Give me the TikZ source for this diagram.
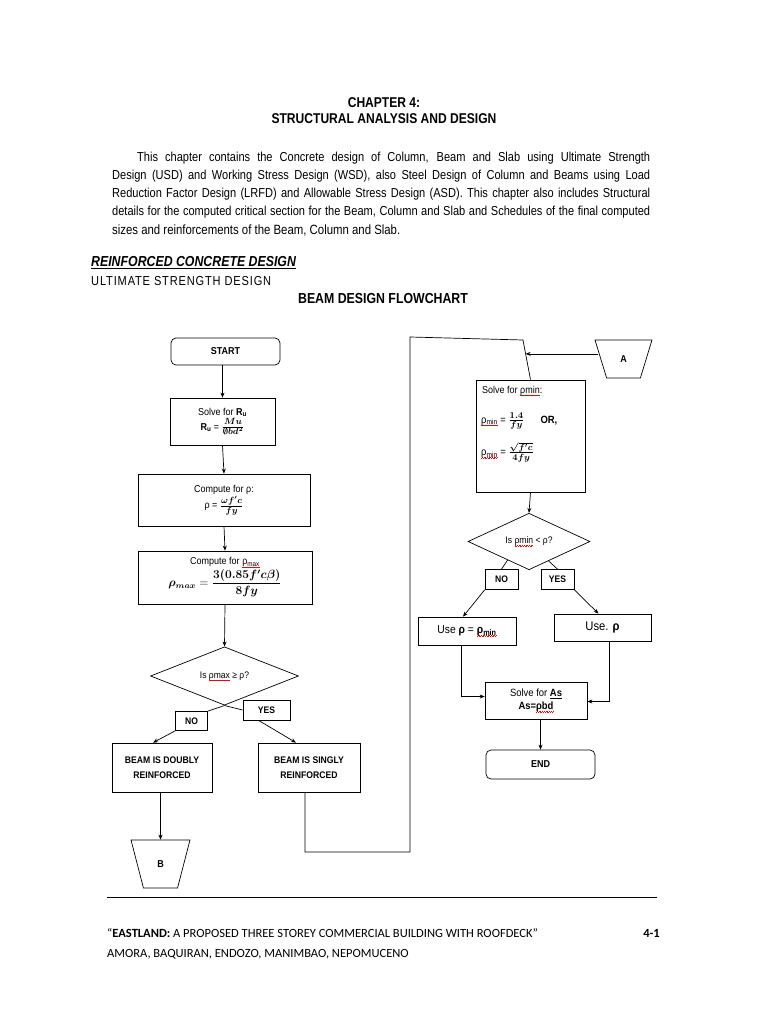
\documentclass[tikz,border=0pt]{standalone}
\usepackage{amsmath}
\usepackage{bm}
\usepackage[no-math]{fontspec}
\setmainfont{Liberation Sans}[FakeStretch=0.85]
\newfontfamily\flowfont{Liberation Sans}[FakeStretch=0.9]
\newfontfamily\footfont{Carlito}
\usetikzlibrary{shapes.geometric,arrows.meta,calc}
\newsavebox\sqbox
\newcommand\redsq[1]{\sbox\sqbox{#1}\leavevmode\rlap{\color{red}\hbox to\wd\sqbox{\xleaders\hbox to 1.6pt{\hss\raisebox{-2.6pt}{\rule{0.8pt}{0.55pt}}\raisebox{-2.1pt}{\rule{0.8pt}{0.55pt}}\hss}\hfill}}\usebox\sqbox}
\newcommand\fr[1]{{\fontsize{12.5}{12.5}\selectfont$\bm{#1}$}}
\tikzset{
 box/.style={draw, line width=0.7pt, inner sep=1pt, align=center, font=\flowfont\fontsize{10}{12}\selectfont},
 term/.style={box, rounded corners=5pt, font=\flowfont\bfseries\fontsize{10}{12}\selectfont},
 lab/.style={draw, line width=0.7pt, inner sep=0pt, font=\flowfont\bfseries\fontsize{9.5}{11}\selectfont},
 dec/.style={draw, diamond, line width=0.7pt, inner sep=0pt, font=\flowfont\fontsize{9.5}{11}\selectfont},
 conn/.style={draw, trapezium, shape border rotate=180, trapezium stretches=true, line width=0.7pt, inner sep=0pt, font=\flowfont\bfseries\fontsize{10}{12}\selectfont},
 arr/.style={line width=0.7pt, -{Stealth[length=5pt,width=4pt]}},
 ln/.style={line width=0.7pt},
 para/.style={anchor=base west, inner sep=0pt, font=\fontsize{13}{15}\selectfont},
 head/.style={anchor=base, inner sep=0pt, font=\bfseries\fontsize{14.2}{16}\selectfont},
}
\begin{document}
\begin{tikzpicture}[x=1pt,y=-1pt]
\fill[white] (0,0) rectangle (768,1024);
\useasboundingbox (0,0) rectangle (768,1024);

% header
\node[head] (t1) at (384,108) {CHAPTER 4:};
\node[head] (t2) at (384,124) {STRUCTURAL ANALYSIS AND DESIGN};
\node[para] (p1) at (137,162) {\makebox[513pt][s]{This chapter contains the Concrete design of Column, Beam and Slab using Ultimate Strength}};
\node[para] (p2) at (112,180) {\makebox[538pt][s]{Design (USD) and Working Stress Design (WSD), also Steel Design of Column and Beams using Load}};
\node[para] (p3) at (112,198) {\makebox[538pt][s]{Reduction Factor Design (LRFD) and Allowable Stress Design (ASD). This chapter also includes Structural}};
\node[para] (p4) at (112,216) {\makebox[538pt][s]{details for the computed critical section for the Beam, Column and Slab and Schedules of the final computed}};
\node[para, font=\fontsize{13.4}{15}\selectfont] (p5) at (112,234) {sizes and reinforcements of the Beam, Column and Slab.};
\node[para, font=\bfseries\itshape\fontsize{14.5}{16}\selectfont] (rc) at (91,266) {\underline{REINFORCED CONCRETE DESIGN}};
\node[para, font=\fontsize{13}{15}\selectfont\addfontfeature{LetterSpace=6.5}] (usd) at (91,285) {ULTIMATE STRENGTH DESIGN};
\node[head, font=\bfseries\fontsize{14.5}{16}\selectfont] (bdf) at (383,303) {BEAM DESIGN FLOWCHART};

% left column
\node[term, minimum width=109pt, minimum height=27pt] (start) at (225.5,351.5) {START};
\node[box, minimum width=105pt, minimum height=47pt] (ru) at (222.5,421.5)
  {Solve for \textbf{R\textsubscript{u}}\\[1pt]\textbf{R\textsubscript{u}} = \fr{\frac{Mu}{\emptyset bd^2}}};
\node[box, minimum width=172pt, minimum height=52pt] (rho) at (224,500)
  {Compute for ρ:\\[1pt]ρ = \fr{\frac{\omega f'c}{fy}}};
\node[box, minimum width=174pt, minimum height=53pt] (rmax) at (225,577.5)
  {Compute for \redsq{ρ\textsubscript{max}}\\[1pt]{\fontsize{12}{14}\selectfont$\bm{\rho_{max}} = \dfrac{\bm{3(0.85f'c\beta)}}{\bm{8fy}}$}};
\node[dec, minimum width=148pt, minimum height=52pt] (d1) at (224.5,676) {Is \redsq{ρmax} ≥ ρ?};
\node[lab, minimum width=32pt, minimum height=19pt] (no1) at (191.5,721) {NO};
\node[lab, minimum width=47pt, minimum height=20pt] (yes1) at (266.5,710) {YES};
\node[box, font=\flowfont\bfseries\fontsize{9.6}{14.5}\selectfont, minimum width=100pt, minimum height=49pt] (dbl) at (162,767.5) {BEAM IS DOUBLY\\REINFORCED};
\node[box, font=\flowfont\bfseries\fontsize{9.6}{14.5}\selectfont, minimum width=102pt, minimum height=49pt] (sgl) at (309,767.5) {BEAM IS SINGLY\\REINFORCED};
\node[conn, trapezium left angle=71, trapezium right angle=71, minimum width=59pt, minimum height=48pt] (B) at (160.5,864) {B};

% right column
\node[conn, trapezium left angle=72, trapezium right angle=72, minimum width=57pt, minimum height=38pt] (A) at (623.5,359) {A};
\node[box, minimum width=109pt, minimum height=112pt] (rmin) at (530.5,436) {};
\node[anchor=base west, inner sep=0pt, font=\flowfont\fontsize{10}{12}\selectfont] (rm1) at (482,393) {Solve for \redsq{ρmin}:};
\node[anchor=west, inner sep=0pt, font=\flowfont\fontsize{10.5}{12}\selectfont] (rm2) at (481,421)
  {\redsq{ρ\textsubscript{min}} = \fr{\frac{1.4}{fy}}\hspace{16pt}\textbf{OR,}};
\node[anchor=west, inner sep=0pt, font=\flowfont\fontsize{10.5}{12}\selectfont] (rm3) at (481,452)
  {\redsq{ρ\textsubscript{min}} = \fr{\frac{\sqrt{f'c}}{4fy}}};
\node[dec, minimum width=122pt, minimum height=45pt] (d2) at (529,541.5) {Is \redsq{ρmin} < ρ?};
\node[lab, minimum width=33pt, minimum height=20pt] (no2) at (501.5,579.5) {NO};
\node[lab, minimum width=33pt, minimum height=20pt] (yes2) at (557.5,579.5) {YES};
\node[box, font=\flowfont\fontsize{11.5}{14}\selectfont, minimum width=98pt, minimum height=28pt] (umin) at (467,631)
  {Use \textbf{ρ} = \textbf{\redsq{ρ\textsubscript{min}}}};
\node[box, font=\flowfont\fontsize{12.5}{14}\selectfont, minimum width=97pt, minimum height=27pt] (up) at (602.5,627.5)
  {Use. \textbf{ρ}};
\node[box, font=\flowfont\fontsize{10.5}{13}\selectfont, minimum width=102pt, minimum height=37pt] (as) at (536,700.5)
  {Solve for \underline{\textbf{As}}\\\textbf{As=\redsq{ρbd}}};
\node[term, minimum width=109pt, minimum height=29pt] (end) at (540.5,764.5) {END};

% connectors
\draw[arr] (start.south -| ru.north) -- (ru.north);
\draw[arr] (ru.south) -- (rho.north);
\draw[arr] (rho.south) -- (rmax.north);
\draw[arr] (rmax.south) -- (d1.north);
\draw[ln] (d1.south) -- (no1.north east);
\draw[arr] (no1.south west) -- ([xshift=-9pt]dbl.north);
\draw[ln] (d1.south) -- (yes1.west);
\draw[arr] ([xshift=-8pt]yes1.south) -- ([xshift=-13pt]sgl.north);
\draw[arr] (dbl.south -| B.north) -- (B.north);
\coordinate (c1) at (410,852);
\coordinate (c2) at (410,337);
\coordinate (c3) at (523,340);
\draw[ln] ([xshift=-4pt]sgl.south) |- (c1) -- (c2) -- (c3) -- (rmin.north);
\coordinate (j) at ($(c3)!0.35!(rmin.north)$);
\draw[arr, shorten <=2pt] (A.west |- j) -- (j);
\draw[arr] (rmin.south) -- (d2.north);
\draw[ln] ($(d2.south)!0.35!(d2.west)$) -- (no2.north);
\draw[ln] ($(d2.south)!0.32!(d2.east)$) -- (yes2.north);
\draw[arr] (no2.south west) -- ([xshift=-4pt]umin.north);
\draw[arr] (yes2.south east) -- ([xshift=-4pt]up.north);
\draw[arr] ([xshift=-6pt]umin.south) |- ([yshift=4pt]as.west);
\draw[arr] ([xshift=6.5pt]up.south) |- ([yshift=-1pt]as.east);
\draw[arr] (as.south -| end.north) -- (end.north);

% footer
\draw[line width=0.8pt] (107,897) -- (657,897);
\node[anchor=base west, inner sep=0pt, font=\footfont\fontsize{12.5}{14}\selectfont] (f1) at (107,937) {“\textbf{EASTLAND:} A PROPOSED THREE STOREY COMMERCIAL BUILDING WITH ROOFDECK”};
\node[anchor=base east, inner sep=0pt, font=\footfont\bfseries\fontsize{12.5}{14}\selectfont] (f2) at (660,937) {4-1};
\node[anchor=base west, inner sep=0pt, font=\footfont\fontsize{12.5}{14}\selectfont] (f3) at (107,957) {AMORA, BAQUIRAN, ENDOZO, MANIMBAO, NEPOMUCENO};
\end{tikzpicture}
\end{document}
